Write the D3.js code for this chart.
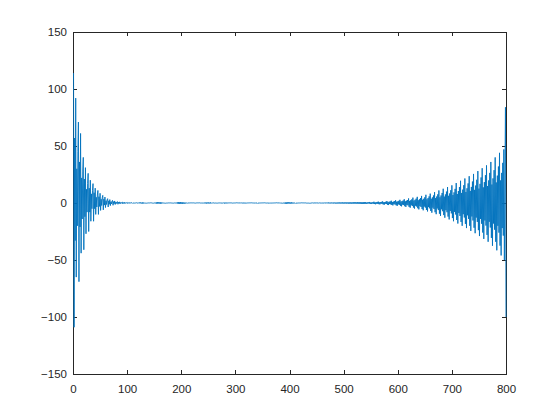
<!DOCTYPE html>
<html>
<head>
<meta charset="utf-8">
<script src="https://cdn.jsdelivr.net/npm/d3@7"></script>
<style>
  html, body { margin: 0; padding: 0; background: #fff; }
  svg { display: block; }
  .tick text { font-family: "Liberation Sans", Arial, Helvetica, sans-serif; font-size: 11.5px; fill: #262626; }
</style>
</head>
<body>
<div id="chart"></div>
<script>
// samples 1..120 : decaying burst at the start
const headBurst = [
  114, -109, 57, -33, 92, -65, 30, -20, 45,
  71, -69, 36, -21, 61, -44, 22, -14, 28,
  40, -41, 21, -12, 31, -27, 12, -8, 17,
  26, -25, 13, -8, 20, -16, 8, -5, 11,
  17, -16, 9, -5, 13, -10, 5, -3.5, 7,
  11, -10, 5.5, -3, 8.5, -6.5, 3.3, -2.2, 4.5,
  6.7, -6, 3.4, -1.8, 5.2, -4, 2, -1.3, 2.7,
  3.8, -3.5, 1.9, -1.1, 3, -2.3, 1.1, -0.8, 1.6,
  2.3, -2, 1.2, -0.6, 1.8, -1.3, 0.7, -0.5, 0.9,
  1.3, -1.1, 0.7, -0.4, 1, -0.7, 0.4, -0.3, 0.5,
  0.8, -0.7, 0.4, -0.3, 0.6, -0.5, 0.3, -0.2, 0.3,
  0.5, -0.4, 0.3, -0.2, 0.4, -0.3, 0.2, -0.1, 0.2,
  0.3, -0.3, 0.2, -0.1, 0.2, -0.2, 0.1, -0.1, 0.2, 0.1, -0.1, 0.1
];

// samples 121..539 : almost flat
const quietMid = [
  0.2, -0.3, 0.4, -0.2, 0.5, -0.4, 0.3, -0.5, 0.6, -0.4,
  0.3, -0.2, 0.2, -0.1, 0.1, -0.2, 0.1, -0.1, 0.2, -0.1,
  0.1, -0.1, 0.2, -0.2, 0.1, 0.1, -0.1, 0.1, -0.2,
  0.2, -0.1, 0.3, -0.4, 0.5, -0.6, 0.7, -0.5, 0.6, -0.4,
  0.5, -0.7, 0.6, -0.5, 0.4, -0.3, 0.3, -0.2, 0.2, -0.1,
  0.1, -0.2, 0.1, -0.1, 0.1, -0.1, 0.2, -0.1, 0.1, -0.1,
  0.1, -0.1, 0, 0.1, -0.1, 0.1, -0.2, 0.2, -0.1, 0.1,
  -0.2, 0.3, -0.4, 0.5, -0.6, 0.7, -0.8, 0.6, -0.7, 0.8,
  -0.6, 0.5, -0.7, 0.6, -0.5, 0.4, -0.5, 0.3, -0.4, 0.3,
  -0.2, 0.2, -0.3, 0.2, -0.1, 0.1, -0.2, 0.1, -0.1, 0.1,
  -0.1, 0.1, -0.1, 0.2, -0.1, 0.1, -0.1, 0, 0.1, -0.1,
  0.1, -0.1, 0.1, -0.1, 0.2, -0.2, 0.1, -0.1, 0.1, -0.1,
  0.2, -0.2, 0.3, -0.3, 0.4, -0.3, 0.4, -0.5, 0.4, -0.3,
  0.5, -0.4, 0.3, -0.4, 0.5, -0.3, 0.2, -0.3, 0.2, -0.1,
  0.2, -0.2, 0.1, -0.1, 0.2, -0.1, 0.1, -0.1, 0.1, 0,
  -0.1, 0.1, -0.1, 0.1, -0.2, 0.2, -0.3, 0.3, -0.2, 0.3,
  -0.4, 0.3, -0.3, 0.4, -0.3, 0.2, -0.2, 0.1, -0.1, 0.1,
  -0.1, 0.1, -0.1, 0.1, 0, -0.1, 0.1, -0.1, 0.1, -0.1,
  0.1, -0.2, 0.2, -0.1, 0.1, -0.2, 0.1, -0.1, 0.2, -0.2,
  0.3, -0.2, 0.3, -0.3, 0.2, -0.3, 0.4, -0.3, 0.2, -0.2,
  0.1, -0.2, 0.1, -0.1, 0.1, -0.1, 0.1, -0.1, 0.1, -0.1,
  0.2, -0.1, 0.1, -0.2, 0.2, -0.1, 0.2, -0.2, 0.3, -0.2,
  0.2, -0.3, 0.2, -0.2, 0.1, -0.1, 0.1, -0.1, 0.1, -0.1,
  0.1, -0.1, 0.1, -0.1, 0.2, -0.1, 0.1, -0.2, 0.1, -0.1,
  0.2, -0.2, 0.2, -0.3, 0.3, -0.2, 0.2, -0.1, 0.1, -0.1,
  0.1, -0.1, 0.1, -0.1, 0.1, -0.1, 0.2, -0.1, 0.1, -0.1,
  0.2, -0.2, 0.3, -0.3, 0.2, -0.2, 0.1, -0.2, 0.2, -0.1,
  0.3, -0.4, 0.5, -0.6, 0.5, -0.7, 0.6, -0.5, 0.6, -0.4,
  0.5, -0.6, 0.4, -0.5, 0.6, -0.4, 0.3, -0.4, 0.3, -0.2,
  0.2, -0.3, 0.2, -0.2, 0.1, -0.1, 0.2, -0.1, 0.1, -0.1,
  0.1, -0.1, 0.2, -0.1, 0.1, -0.2, 0.1, -0.1, 0.1, -0.1,
  0.2, -0.2, 0.1, -0.2, 0.2, -0.1, 0.2, -0.2, 0.1, -0.2,
  0.2, -0.2, 0.3, -0.2, 0.2, -0.3, 0.3, -0.2, 0.3, -0.3,
  0.2, -0.2, 0.2, -0.3, 0.2, -0.2, 0.3, -0.2, 0.2, -0.2,
  0.3, -0.3, 0.2, -0.3, 0.3, -0.2, 0.3, -0.3, 0.3, -0.2,
  0.3, -0.3, 0.4, -0.3, 0.3, -0.4, 0.3, -0.3, 0.4, -0.3,
  0.3, -0.4, 0.4, -0.3, 0.4, -0.4, 0.3, -0.4, 0.4, -0.4,
  0.4, -0.4, 0.5, -0.4, 0.4, -0.5, 0.4, -0.4, 0.5, -0.5,
  0.4, -0.5, 0.5, -0.4, 0.5, -0.5, 0.5, -0.4, 0.5, -0.5,
  0.5, -0.5, 0.6, -0.5, 0.5, -0.6, 0.5, -0.5, 0.6, -0.6,
  0.6, -0.5, 0.6, -0.6, 0.5, -0.6, 0.7, -0.6, 0.6, -0.6,
  0.7, -0.6, 0.7, -0.7, 0.6, -0.7, 0.7, -0.7, 0.8, -0.7
];

// samples 540..800 : growing burst at the end
const tailBurst = [
  0.8, -0.7, 0.4, -0.8, 0.5, -0.4, 0.6, -0.5,
  0.9, -0.8, 0.4, -0.9, 0.5, -0.5, 0.7, -0.6,
  1.1, -0.9, 0.5, -1.1, 0.7, -0.6, 0.9, -0.7,
  1.2, -1.0, 0.6, -1.2, 0.7, -0.6, 1.0, -0.8,
  1.4, -1.2, 0.6, -1.5, 0.8, -0.7, 1.1, -0.9,
  1.7, -1.5, 0.8, -1.8, 1.1, -0.9, 1.4, -1.2,
  2.0, -1.7, 0.9, -2.1, 1.2, -1.0, 1.6, -1.3,
  2.4, -2.0, 1.1, -2.5, 1.4, -1.2, 1.9, -1.6,
  2.8, -2.4, 1.3, -2.9, 1.7, -1.4, 2.2, -1.8,
  3.3, -2.8, 1.5, -3.4, 2.0, -1.7, 2.6, -2.1,
  4.0, -3.4, 1.8, -4.1, 2.4, -2.0, 3.2, -2.6,
  4.7, -4.0, 2.1, -4.9, 2.8, -2.4, 3.8, -3.1,
  5.4, -4.6, 2.4, -5.6, 3.2, -2.7, 4.3, -3.5,
  6.2, -5.3, 2.8, -6.4, 3.7, -3.1, 5.0, -4.0,
  7.2, -6.1, 3.2, -7.4, 4.3, -3.6, 5.8, -4.7,
  8.2, -7.0, 3.7, -8.5, 4.9, -4.1, 6.6, -5.3,
  9.5, -8.1, 4.3, -9.8, 5.7, -4.8, 7.6, -6.2,
  11, -9.4, 5.0, -11.3, 6.6, -5.5, 8.8, -7.2,
  12.5, -10.6, 5.6, -12.9, 7.5, -6.3, 10, -8.1,
  14, -11.9, 6.3, -14.4, 8.4, -7.0, 11.2, -9.1,
  15.5, -13.2, 7.0, -16, 9.3, -7.8, 12.4, -10.1,
  17.5, -14.9, 7.9, -18, 10.5, -8.8, 14, -11.4,
  19.5, -16.6, 8.8, -20, 11.7, -9.8, 15.6, -12.7,
  21.5, -18.3, 9.7, -22, 12.9, -10.8, 17.2, -14,
  23.5, -20, 10.6, -24.5, 14.1, -11.8, 18.8, -15.3,
  25.5, -21.7, 11.5, -26.5, 15.3, -12.8, 20.4, -16.6,
  28, -23.8, 12.6, -29, 16.8, -14, 22.4, -18.2,
  30.5, -25.9, 13.7, -31.5, 18.3, -15.3, 24.4, -19.8,
  33, -28, 14.9, -34, 19.8, -16.5, 26.4, -21.5,
  36, -30.6, 16.2, -37.5, 21.6, -18, 28.8, -23.4,
  40, -34, 18, -41.5, 24, -20, 32, -26,
  44, -37.4, 19.8, -46, 26.4, -22, 35.2, -28.6,
  47, -50, 22, 84, -100
];

const xTicks = [0, 100, 200, 300, 400, 500, 600, 700, 800];
const yTicks = [-150, -100, -50, 0, 50, 100, 150];

const signal = headBurst.concat(quietMid, tailBurst);

// Set dimensions (matlab default axes position)
const W = 560, H = 420;
const margin = {top: 32, right: 54, bottom: 46, left: 73};
const tick = 4.3;
const axisColor = "#262626";

const svg = d3.select("#chart").append("svg")
  .attr("width", W)
  .attr("height", H);

const x = d3.scaleLinear().domain([0, 800]).range([margin.left, W - margin.right]);
const y = d3.scaleLinear().domain([-150, 150]).range([H - margin.bottom, margin.top]);

// axes, box on, ticks inward
function styleAxis(g) {
  g.attr("shape-rendering", "crispEdges");
  g.selectAll("path, line").attr("stroke", axisColor);
}

svg.append("g")
  .attr("transform", `translate(0,${H - margin.bottom})`)
  .call(d3.axisBottom(x).tickValues(xTicks).tickSizeInner(-tick).tickSizeOuter(0).tickPadding(11))
  .call(styleAxis);

svg.append("g")
  .attr("transform", `translate(0,${margin.top})`)
  .call(d3.axisTop(x).tickValues(xTicks).tickSizeInner(-tick).tickSizeOuter(0).tickFormat(""))
  .call(styleAxis);

svg.append("g")
  .attr("transform", `translate(${margin.left},0)`)
  .call(d3.axisLeft(y).tickValues(yTicks).tickSizeInner(-tick).tickSizeOuter(0).tickPadding(6))
  .call(styleAxis);

svg.append("g")
  .attr("transform", `translate(${W - margin.right},0)`)
  .call(d3.axisRight(y).tickValues(yTicks).tickSizeInner(-tick).tickSizeOuter(0).tickFormat(""))
  .call(styleAxis);

// the signal, x runs 1..800, drawn on top of the axes
const line = d3.line()
  .x((d, i) => x(i + 1))
  .y((d) => y(d));

svg.append("path")
  .datum(signal)
  .attr("fill", "none")
  .attr("stroke", "#0072BD")
  .attr("stroke-width", 0.9)
  .attr("stroke-linejoin", "round")
  .attr("d", line);
</script>
</body>
</html>
